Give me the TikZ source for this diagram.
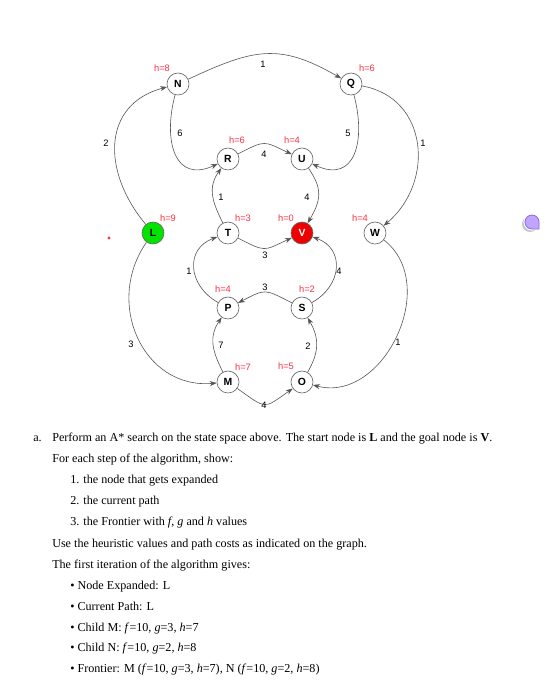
\documentclass[tikz,border=0pt]{standalone}
\usepackage{fontspec}
\setmainfont{Liberation Serif}
\newfontfamily\graphfont{Liberation Sans}
\usetikzlibrary{arrows.meta}
\definecolor{hcol}{RGB}{250,50,70}
\definecolor{startcol}{RGB}{0,228,0}
\definecolor{goalcol}{RGB}{238,0,0}
\definecolor{edgegray}{RGB}{85,85,85}
\definecolor{nodegray}{RGB}{105,105,105}
\definecolor{notefill}{RGB}{192,165,255}
\definecolor{notedraw}{RGB}{140,100,230}

\begin{document}
\begin{tikzpicture}[x=0.75pt,y=0.75pt,
  state/.style={circle,draw=nodegray,line width=0.5pt,minimum size=16.5pt,inner sep=0pt,fill=white,font=\graphfont\fontsize{7.8}{8}\selectfont\bfseries},
  hval/.style={text=hcol,inner sep=0pt,font=\graphfont\fontsize{7}{8}\selectfont},
  cost/.style={inner sep=0pt,font=\graphfont\fontsize{7}{8}\selectfont},
  edge/.style={draw=edgegray,line width=0.45pt,-{Stealth[length=5.2pt,width=3.8pt]}},
  txt/.style={anchor=base west,inner sep=0pt,font=\fontsize{9.1}{10}\selectfont}]
\useasboundingbox (0,0) rectangle (553,-687);
\node[state] (N) at (178,-84) {N};
\node[state] (Q) at (351,-84) {Q};
\node[state] (R) at (228,-159) {R};
\node[state] (U) at (302,-159) {U};
\node[state,fill=startcol] (L) at (153,-233) {L};
\node[state] (T) at (228,-233) {T};
\node[state,fill=goalcol,text=white] (V) at (302,-233) {V};
\node[state] (W) at (375,-233) {W};
\node[state] (P) at (228,-308) {P};
\node[state] (S) at (302,-308) {S};
\node[state] (M) at (228,-382) {M};
\node[state] (O) at (302,-382) {O};
\node[hval] (hN) at (162,-68) {h=8};
\node[hval] (hQ) at (367,-68) {h=6};
\node[hval] (hR) at (237,-140) {h=6};
\node[hval] (hU) at (292,-140) {h=4};
\node[hval] (hL) at (168,-218) {h=9};
\node[hval] (hT) at (243,-218) {h=3};
\node[hval] (hV) at (286,-218) {h=0};
\node[hval] (hW) at (360,-218) {h=4};
\node[hval] (hP) at (223,-289) {h=4};
\node[hval] (hS) at (307,-289) {h=2};
\node[hval] (hM) at (243,-367) {h=7};
\node[hval] (hO) at (286,-366) {h=5};
\draw[edge] (L) to[out=130,in=195,looseness=1.25] (N);
\draw[edge] (L) to[out=235,in=185,looseness=1.2] (M);
\draw[edge] (N) to[out=25,in=150,looseness=1.2] (Q);
\draw[edge] (N) to[out=255,in=205,looseness=1.5] (R);
\draw[edge] (Q) to[out=-75,in=-25,looseness=1.5] (U);
\draw[edge] (Q) to[out=-10,in=40,looseness=1.22] (W);
\draw[edge] (R) to[out=27,in=155,looseness=1.5] (U);
\draw[edge] (T) to[out=117,in=234,looseness=1.1] (R);
\draw[edge] (U) to[out=-55,in=60,looseness=1.2] (V);
\draw[edge] (T) to[out=-27,in=205,looseness=1.5] (V);
\draw[edge] (P) to[out=151,in=200,looseness=1.35] (T);
\draw[edge] (S) to[out=29,in=-20,looseness=1.35] (V);
\draw[edge] (S) to[out=153,in=27,looseness=1.5] (P);
\draw[edge] (M) to[out=117,in=236,looseness=1.1] (P);
\draw[edge] (O) to[out=60,in=-60,looseness=1.1] (S);
\draw[edge] (M) to[out=-35,in=215,looseness=1.7] (O);
\draw[edge] (W) to[out=-38,in=-15,looseness=1.15] (O);
\node[cost] (cLN) at (106,-143) {2};
\node[cost] (cLM) at (131,-344) {3};
\node[cost] (cNQ) at (263,-64) {1};
\node[cost] (cNR) at (180,-133) {6};
\node[cost] (cQU) at (348,-133) {5};
\node[cost] (cQW) at (423,-143) {1};
\node[cost] (cRU) at (264,-154) {4};
\node[cost] (cTR) at (221,-197) {1};
\node[cost] (cUV) at (307,-197) {4};
\node[cost] (cTV) at (265,-255) {3};
\node[cost] (cPT) at (189,-271) {1};
\node[cost] (cSV) at (339,-271) {4};
\node[cost] (cSP) at (265,-287) {3};
\node[cost] (cMP) at (221,-345) {7};
\node[cost] (cOS) at (308,-346) {2};
\node[cost] (cMO) at (264,-405) {4};
\node[cost] (cWO) at (398,-342) {1};
\fill[hcol] (109,-238) circle (1.6);
\fill[black!22] (530,-224) circle (8);
\fill[white] (532,-222) circle (8.5);
\filldraw[fill=notefill,draw=notedraw,line width=0.6pt] (539,-229) -- (532,-229) arc[start angle=-90,end angle=-360,radius=7] -- cycle;
\node[txt] (tA) at (33,-441) {a.};
\node[txt] (t1) at (52,-441) {Perform an A* search on the state space above. The start node is \textbf{L} and the goal node is \textbf{V}.};
\node[txt] (t2) at (52,-462) {For each step of the algorithm, show:};
\node[txt] (t3) at (70,-483) {1. the node that gets expanded};
\node[txt] (t4) at (70,-504) {2. the current path};
\node[txt] (t5) at (70,-525) {3. the Frontier with \textit{f}, \textit{g} and \textit{h} values};
\node[txt] (t6) at (52,-547) {Use the heuristic values and path costs as indicated on the graph.};
\node[txt] (t7) at (52,-568) {The first iteration of the algorithm gives:};
\node[txt] (t8) at (70,-589) {\textbullet\ Node Expanded: L};
\node[txt] (t9) at (70,-610) {\textbullet\ Current Path: L};
\node[txt] (t10) at (70,-631) {\textbullet\ Child M: \textit{f}=10, \textit{g}=3, \textit{h}=7};
\node[txt] (t11) at (70,-651) {\textbullet\ Child N: \textit{f}=10, \textit{g}=2, \textit{h}=8};
\node[txt] (t12) at (70,-672) {\textbullet\ Frontier: M (\textit{f}=10, \textit{g}=3, \textit{h}=7), N (\textit{f}=10, \textit{g}=2, \textit{h}=8)};
\end{tikzpicture}
\end{document}
